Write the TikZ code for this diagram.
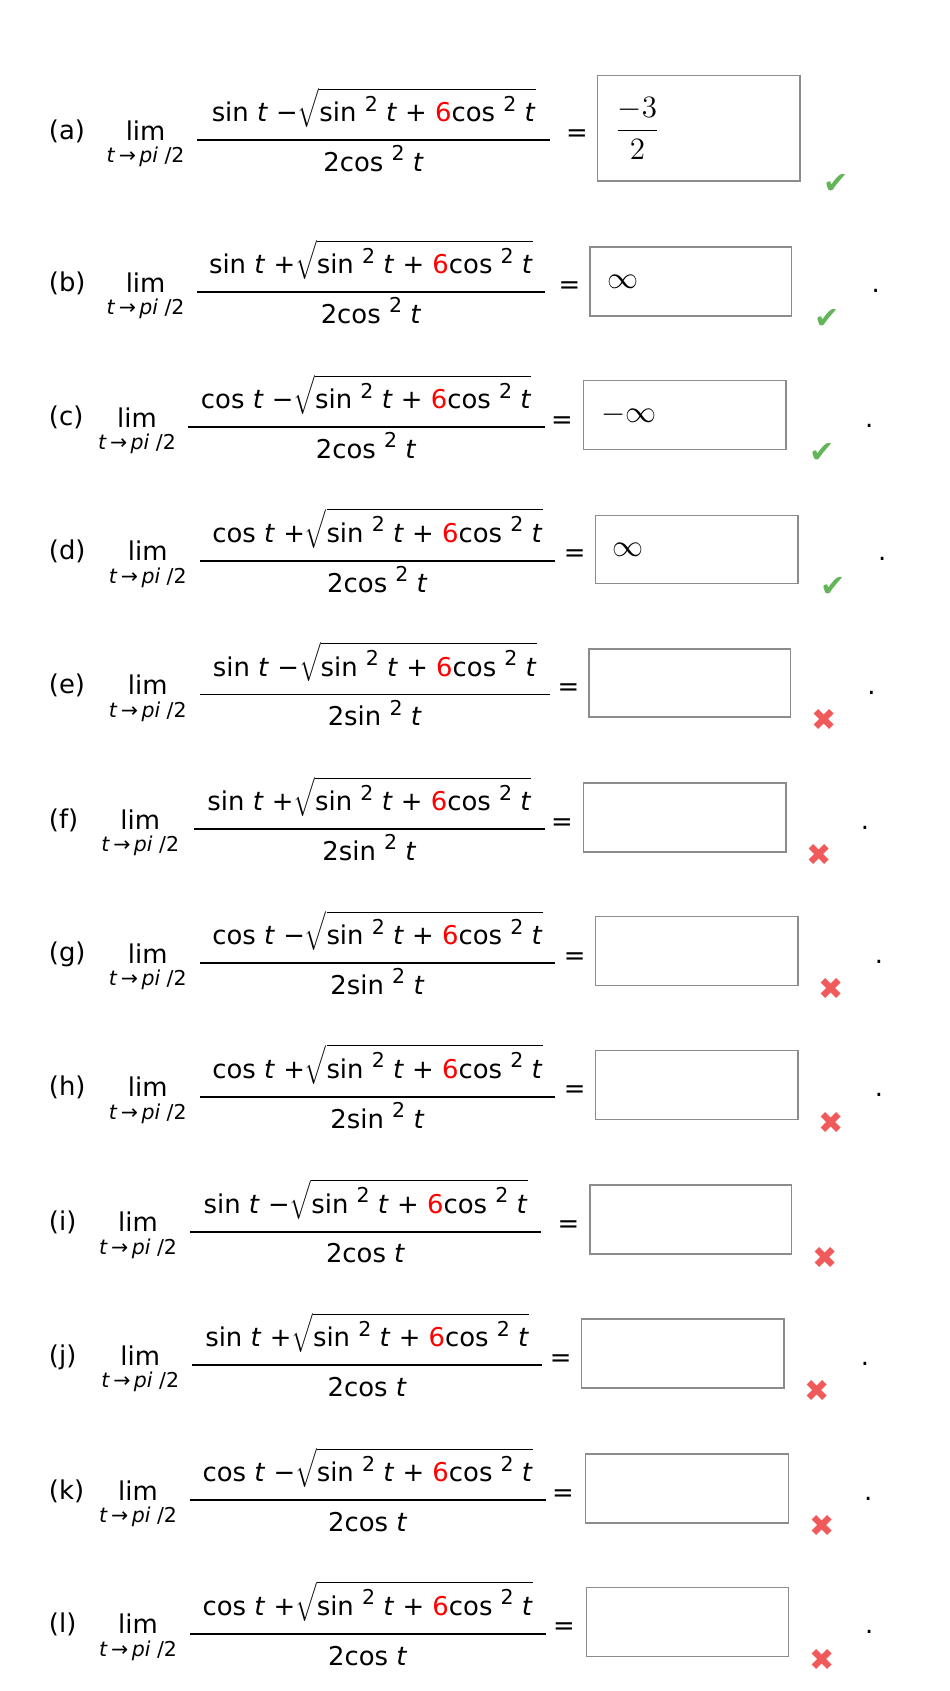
\documentclass[tikz,border=0pt]{standalone}
\usepackage{fontspec}
\setmainfont{DejaVu Sans}
\newfontfamily\symf{DejaVu Sans}
\definecolor{okgreen}{RGB}{100,180,90}
\definecolor{badred}{RGB}{240,90,90}
\newcommand\tsq{\raisebox{0.75ex}{\fontsize{9.5}{10}\selectfont 2}}
\begin{document}
\begin{tikzpicture}[x=0.5pt,y=-0.5pt,
  txt/.style={inner sep=0pt,font=\fontsize{12}{14}\selectfont},
  small/.style={inner sep=0pt,font=\fontsize{9.5}{10}\selectfont},
  ansbox/.style={draw=gray!90,line width=0.7pt},
  bar/.style={line width=0.9pt}]
\useasboundingbox (0,0) rectangle (880,1568);
\foreach \y/\L/\lx/\limx/\bl/\br/\eq/\bxl/\bxr/\bt/\bb/\num/\sgn/\den/\ans/\mk in {
 130/a/45/135/183/510/535/554/742/60/38/sin/−/{2cos \tsq\ \textit{t}}/{$\displaystyle\frac{-3}{2}$}/1,
 271/b/45/135/183/505/528/547/734/42/22/sin/+/{2cos \tsq\ \textit{t}}/{$\infty$}/1,
 396/c/45/127/174/505/521/541/729/43/21/cos/−/{2cos \tsq\ \textit{t}}/{$-\infty$}/1,
 520/d/45/137/185/515/533/552/740/42/21/cos/+/{2cos \tsq\ \textit{t}}/{$\infty$}/1,
 644/e/45/137/185/510/527/546/733/42/21/sin/−/{2sin \tsq\ \textit{t}}/{}/0,
 769/f/45/130/180/505/521/541/729/43/21/sin/+/{2sin \tsq\ \textit{t}}/{}/0,
 893/g/45/137/185/515/533/552/740/43/21/cos/−/{2sin \tsq\ \textit{t}}/{}/0,
 1017/h/45/137/185/515/533/552/740/43/21/cos/+/{2sin \tsq\ \textit{t}}/{}/0,
 1142/i/45/128/176/502/527/547/734/43/21/sin/−/{2cos \textit{t}}/{}/0,
 1266/j/45/130/178/503/520/539/727/43/21/sin/+/{2cos \textit{t}}/{}/0,
 1391/k/45/128/176/506/522/543/731/43/21/cos/−/{2cos \textit{t}}/{}/0,
 1515/l/45/128/176/506/523/544/731/43/21/cos/+/{2cos \textit{t}}/{}/0}{
  \node[txt,anchor=base west] (lab\L) at (\lx,\y-1) {(\L)};
  \node[txt,anchor=base] (lim\L) at (\limx,\y) {lim};
  \node[small,anchor=base] (sub\L) at (\limx,\y+21) {\textit{t}\,→\,\textit{pi} /2};
  \draw[bar] (\bl,\y) coordinate (bl\L) -- (\br,\y) coordinate (br\L);
  \node[txt,anchor=base] (num\L) at ({(\bl+\br)/2},\y-17) {\num\ \textit{t} \sgn$\sqrt{\hbox{sin \tsq\ \textit{t} + \textcolor{red}{6}cos \tsq\ \textit{t}}}$};
  \node[txt,anchor=base] (den\L) at ({(\bl+\br)/2},\y+29) {\den};
  \node[txt,anchor=base] (eq\L) at (\eq,\y+1) {=};
  \draw[ansbox] (\bxl,\y-\bt) rectangle (\bxr,\y+\bb);
  \node[anchor=west,inner sep=0pt,font=\fontsize{15}{16}\selectfont] (ans\L) at (\bxl+16,{\y-(\bt-\bb)/2}) {\ans};
  \ifnum\mk=1
    \node[text=okgreen,font=\symf\fontsize{14}{14}\selectfont,inner sep=0pt] (mk\L) at (\bxr+33,\y+\bb+3) {✔};
  \else
    \node[text=badred,font=\symf\fontsize{14}{14}\selectfont,inner sep=0pt] (mk\L) at (\bxr+31,\y+\bb+3) {✖};
  \fi
}
\foreach \y/\x/\n in {271/812/b,396/806/c,520/818/d,644/808/e,769/802/f,893/815/g,1017/815/h,1266/802/j,1391/805/k,1515/806/l}
  \node[txt,anchor=base] (dot\n) at (\x,\y) {.};
\end{tikzpicture}
\end{document}
